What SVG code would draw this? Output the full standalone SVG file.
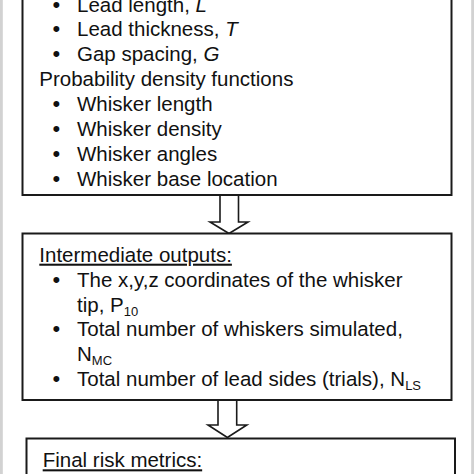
<svg xmlns="http://www.w3.org/2000/svg" width="474" height="474" viewBox="0 0 474 474">
<style>
.box{fill:#fff;stroke:#1a1a1a;stroke-width:2}
.arr{fill:#fff;stroke:#1a1a1a;stroke-width:1.6;stroke-linejoin:miter}
text{font-family:"Liberation Sans",Arial,sans-serif;font-size:20.5px;fill:#111}
.bl{font-size:22px}
.i{font-style:italic}
.sub{font-size:13px}
.u{text-decoration:underline}
</style>
<rect x="0" y="0" width="474" height="474" fill="#fff"/>
<rect x="0" y="0" width="2.8" height="474" fill="#d2d2d2"/>
<rect x="471.2" y="0" width="2.8" height="474" fill="#d2d2d2"/>
<g id="connectors">
<path class="arr" d="M220,195 V222 H210 L229,233.5 L248,222 H238.5 V195"/>
<path class="arr" d="M218,400 V425 H208 L227.4,437.5 L246.8,425 H236.7 V400"/>
</g>
<g id="inputs">
<rect class="box" x="22.5" y="-10" width="429" height="205"/>
<text class="bl" x="52.5" y="11.5">•</text><text x="77" y="11.5">Lead length, <tspan class="i">L</tspan></text>
<text class="bl" x="52.5" y="36.4">•</text><text x="77" y="36.4">Lead thickness, <tspan class="i">T</tspan></text>
<text class="bl" x="52.5" y="61.3">•</text><text x="77" y="61.3">Gap spacing, <tspan class="i">G</tspan></text>
<text x="39.3" y="86.2">Probability density functions</text>
<text class="bl" x="52.5" y="111.1">•</text><text x="77" y="111.1">Whisker length</text>
<text class="bl" x="52.5" y="136">•</text><text x="77" y="136">Whisker density</text>
<text class="bl" x="52.5" y="160.9">•</text><text x="77" y="160.9">Whisker angles</text>
<text class="bl" x="52.5" y="185.8">•</text><text x="77" y="185.8">Whisker base location</text>
</g>
<g id="intermediate">
<rect class="box" x="22.5" y="233.5" width="429" height="166.5"/>
<text x="39.3" y="261.7" class="u">Intermediate outputs:</text>
<text class="bl" x="52.5" y="286.6">•</text><text x="77" y="286.6">The x,y,z coordinates of the whisker</text>
<text x="77" y="311.5">tip, P<tspan class="sub" dy="4">10</tspan></text>
<text class="bl" x="52.5" y="336.4">•</text><text x="77" y="336.4">Total number of whiskers simulated,</text>
<text x="77" y="361.3">N<tspan class="sub" dy="4">MC</tspan></text>
<text class="bl" x="52.5" y="386.2">•</text><text x="77" y="386.2">Total number of lead sides (trials), N<tspan class="sub" dy="4">LS</tspan></text>
</g>
<g id="final">
<rect class="box" x="26.5" y="438.5" width="428.5" height="60"/>
<text x="42.7" y="467.3" class="u">Final risk metrics:</text>
</g>
</svg>
